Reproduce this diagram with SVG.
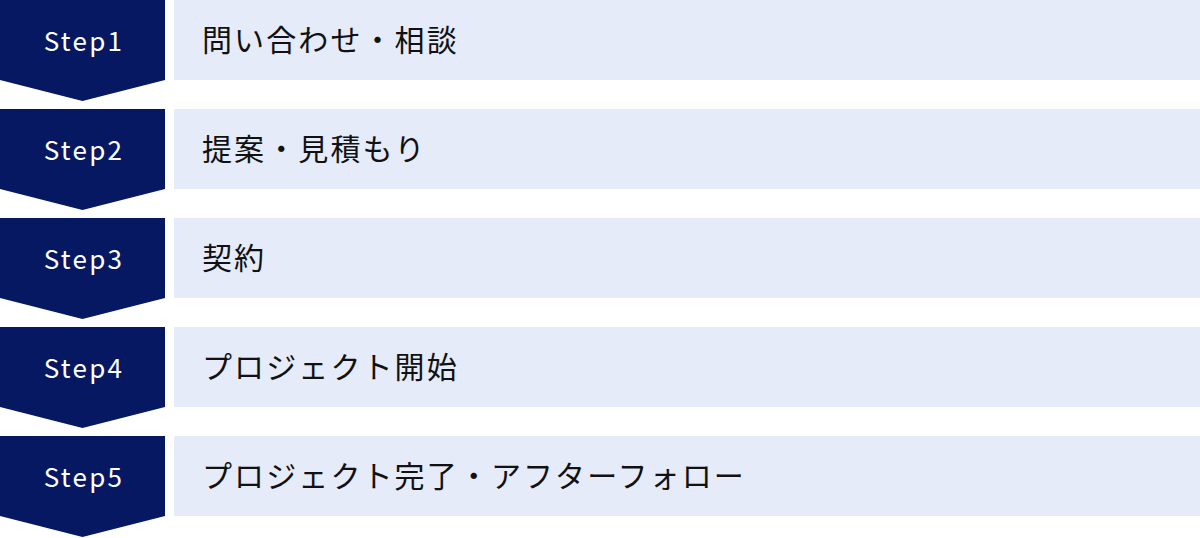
<svg xmlns="http://www.w3.org/2000/svg" width="1200" height="538" viewBox="0 0 1200 538">
<style>
.arrow{fill:#061862}
.box{fill:#e5ebf8}
.step{font-family:"Noto Sans CJK JP","Noto Sans",sans-serif;font-size:26px;font-weight:400;fill:#ffffff;letter-spacing:2.3px;text-anchor:middle}
.label{font-family:"Noto Sans CJK JP","Noto Sans",sans-serif;font-size:30px;fill:#111111;letter-spacing:2.1px}
</style>
<rect width="1200" height="538" fill="#ffffff"/>
<g id="step1" transform="translate(0,0)">
<polygon class="arrow" points="0,0 165,0 165,80 82.5,101 0,80"/>
<rect class="box" x="174" y="0" width="1026" height="80"/>
<text class="step" x="84" y="51">Step1</text>
<text class="label" x="202" y="51">問い合わせ・相談</text>
</g>
<g id="step2" transform="translate(0,109)">
<polygon class="arrow" points="0,0 165,0 165,80 82.5,101 0,80"/>
<rect class="box" x="174" y="0" width="1026" height="80"/>
<text class="step" x="84" y="51">Step2</text>
<text class="label" x="202" y="51">提案・見積もり</text>
</g>
<g id="step3" transform="translate(0,218)">
<polygon class="arrow" points="0,0 165,0 165,80 82.5,101 0,80"/>
<rect class="box" x="174" y="0" width="1026" height="80"/>
<text class="step" x="84" y="51">Step3</text>
<text class="label" x="202" y="51">契約</text>
</g>
<g id="step4" transform="translate(0,327)">
<polygon class="arrow" points="0,0 165,0 165,80 82.5,101 0,80"/>
<rect class="box" x="174" y="0" width="1026" height="80"/>
<text class="step" x="84" y="51">Step4</text>
<text class="label" x="202" y="51">プロジェクト開始</text>
</g>
<g id="step5" transform="translate(0,436)">
<polygon class="arrow" points="0,0 165,0 165,80 82.5,101 0,80"/>
<rect class="box" x="174" y="0" width="1026" height="80"/>
<text class="step" x="84" y="51">Step5</text>
<text class="label" x="202" y="51">プロジェクト完了・アフターフォロー</text>
</g>
<g id="connectors"></g>
</svg>
